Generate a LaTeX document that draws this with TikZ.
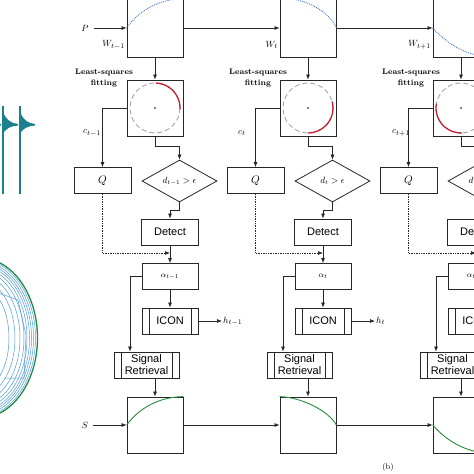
\documentclass[tikz,border=0pt]{standalone}
\usepackage{fontspec}
\newfontfamily\boxfont{Liberation Sans}
\usepackage{tikz}
\usetikzlibrary{arrows.meta,positioning,shapes.geometric}

\definecolor{spikecol}{RGB}{25,128,140}
\definecolor{ringblue}{RGB}{80,155,215}
\definecolor{ringgreen}{RGB}{30,140,70}
\definecolor{wcurve}{RGB}{70,120,200}
\definecolor{scurve}{RGB}{40,140,60}
\definecolor{fitred}{RGB}{200,30,50}

\begin{document}
\begin{tikzpicture}[x=1pt, y=-1pt,
  sq/.style={draw=black!85, line width=0.8pt, minimum width=56pt,
             minimum height=56pt, inner sep=0pt},
  blk/.style={draw=black!85, line width=0.8pt, minimum width=57pt,
              minimum height=26pt, inner sep=1pt, align=center,
              font=\boxfont\fontsize{11}{12}\selectfont},
  proc/.style={blk, path picture={
      \draw[line width=0.8pt]
        ([xshift=7pt]path picture bounding box.north west) --
        ([xshift=7pt]path picture bounding box.south west);
      \draw[line width=0.8pt]
        ([xshift=-7pt]path picture bounding box.north east) --
        ([xshift=-7pt]path picture bounding box.south east);}},
  dec/.style={diamond, draw=black!85, line width=0.8pt, minimum width=75pt,
              minimum height=42pt, inner sep=0pt,
              font=\fontsize{9}{10}\selectfont},
  lbl/.style={font=\fontsize{9.5}{11}\selectfont, inner sep=1pt},
  fitlbl/.style={font=\fontsize{8}{11}\selectfont\bfseries, align=center,
                 inner sep=0pt},
  arr/.style={-{Latex[length=5pt,width=4pt]}, line width=0.7pt, draw=black!85},
  dotarr/.style={arr, densely dotted},
  wline/.style={wcurve, densely dotted, line width=0.9pt},
  sline/.style={scurve, line width=0.9pt},
  fitcirc/.style={gray!70, dash pattern=on 5pt off 3pt, line width=0.9pt},
  fitarc/.style={fitred, line width=1.3pt},
  spikeline/.style={spikecol, line width=1.6pt},
  ringline/.style={ringblue, line width=0.5pt},
  ringouter/.style={ringgreen, line width=1.3pt},
]
\useasboundingbox (0,0) rectangle (474,474);

%% ---- left: signal traces (cut off) ----
\draw[spikeline] (3,106) -- (3,194);
\draw[spikeline] (20,106) -- (20,194);
\fill[spikecol] (-14,112) .. controls (-10,121) and (-6,123) .. (1,124)
  -- (1,125.5) .. controls (-6,126) and (-10,128) .. (-14,133) -- cycle;
\fill[spikecol] (3,112) .. controls (7,121) and (11,123) .. (18,124)
  -- (18,125.5) .. controls (11,126) and (7,128) .. (3,133) -- cycle;
\fill[spikecol] (20,112) .. controls (24,121) and (28,123) .. (35,124)
  -- (35,125.5) .. controls (28,126) and (24,128) .. (20,133) -- cycle;

%% ---- left: contour rings (cut off) ----
\foreach \rx/\ry in {55.5/78.5, 53.5/76.5, 51.5/74.5, 49.5/72.5, 47/70,
                     44/67, 40/63, 35/58, 29/52}
  \draw[ringline] (-20,338) ellipse[x radius=\rx, y radius=\ry];
\draw[ringline] (-4,292) -- (18,300) -- (26,335) -- (24,378) -- (4,378);
\draw[ringouter] (-20,338) ellipse[x radius=57.5, y radius=80];

%% ---- Column t-1 ----
\node[sq, minimum height=58pt] (w1) at (155,28) {};
\node[sq] (fit1) at (155,108) {};
\node[blk] (q1) at (102.5,180.5) {$Q$};
\node[dec] (dec1) at (179.5,181) {$d_{t-1} > \epsilon$};
\node[blk] (det1) at (170,232) {Detect};
\node[blk, minimum width=56pt, font=\fontsize{8}{10}\selectfont] (al1) at (170,276.5) {$\alpha_{t-1}$};
\node[proc, minimum width=56pt] (icon1) at (170,321) {ICON};
\node[proc, minimum width=65pt] (sr1) at (146.5,365) {Signal\\Retrieval};
\node[sq] (s1) at (155,425) {};
\coordinate (j1) at (170,253);

\node[fitlbl] (lsq1) at (104,78) {Least-squares\\fitting};
\node[lbl, anchor=east] (wl1) at (126,45) {$W_{t-1}$};
\node[lbl, anchor=west] (cl1) at (82,133) {$c_{t-1}$};
\node[lbl, anchor=west] (h1) at (222,321) {$h_{t-1}$};
\node[lbl] (pin) at (85,28) {$P$};
\node[lbl] (sin) at (85,425) {$S$};

\draw[wline] (w1.west) .. controls (139,10) and (160,-1) .. (w1.north east);
\draw[sline] (s1.west) .. controls (140,407) and (160,397) .. (s1.north east);
\draw[fitcirc] (fit1.center) circle[radius=25];
\draw[fitarc] (fit1.center) ++(-88:25) arc[start angle=-88, end angle=3, radius=25];
\fill (fit1.center) circle[radius=0.9];

%% ---- Column t ----
\node[sq, minimum height=58pt] (w2) at (308,28) {};
\node[sq] (fit2) at (308,108) {};
\node[blk] (q2) at (255.5,180.5) {$Q$};
\node[dec] (dec2) at (332.5,181) {$d_{t} > \epsilon$};
\node[blk] (det2) at (323,232) {Detect};
\node[blk, minimum width=56pt, font=\fontsize{8}{10}\selectfont] (al2) at (323,276.5) {$\alpha_{t}$};
\node[proc, minimum width=56pt] (icon2) at (323,321) {ICON};
\node[proc, minimum width=65pt] (sr2) at (299.5,365) {Signal\\Retrieval};
\node[sq] (s2) at (308,425) {};
\coordinate (j2) at (323,253);

\node[fitlbl] (lsq2) at (258,78) {Least-squares\\fitting};
\node[lbl, anchor=east] (wl2) at (279,45) {$W_{t}$};
\node[lbl, anchor=west] (cl2) at (237,133) {$c_{t}$};
\node[lbl, anchor=west] (h2) at (375,321) {$h_{t}$};

\draw[wline] (289,-1) .. controls (305,-1) and (330,12) .. (w2.east);
\draw[sline] (s2.north west) .. controls (300,397) and (328,410) .. (s2.east);
\draw[fitcirc] (fit2.center) circle[radius=25];
\draw[fitarc] (fit2.center) ++(-15:25) arc[start angle=-15, end angle=90, radius=25];
\fill (fit2.center) circle[radius=0.9];

%% ---- Column t+1 ----
\node[sq, minimum height=58pt] (w3) at (461,28) {};
\node[sq] (fit3) at (461,108) {};
\node[blk] (q3) at (408.5,180.5) {$Q$};
\node[dec] (dec3) at (485.5,181) {$d_{t+1} > \epsilon$};
\node[blk] (det3) at (476,232) {Detect};
\node[blk, minimum width=56pt, font=\fontsize{8}{10}\selectfont] (al3) at (476,276.5) {$\alpha_{t+1}$};
\node[proc, minimum width=56pt] (icon3) at (476,321) {ICON};
\node[proc, minimum width=65pt] (sr3) at (452.5,365) {Signal\\Retrieval};
\node[sq] (s3) at (461,425) {};
\coordinate (j3) at (476,253);

\node[fitlbl] (lsq3) at (411,78) {Least-squares\\fitting};
\node[lbl, anchor=east] (wl3) at (432,45) {$W_{t+1}$};
\node[lbl, anchor=west] (cl3) at (391,133) {$c_{t+1}$};

\draw[wline] (w3.west) .. controls (446,42) and (463,55) .. (w3.south east);
\draw[sline] (s3.west) .. controls (446,440) and (464,452) .. (s3.south east);
\draw[fitcirc] (fit3.center) circle[radius=25];
\draw[fitarc] (fit3.center) ++(-170:25) arc[start angle=-170, end angle=-272, radius=25];
\fill (fit3.center) circle[radius=0.9];

%% ---- Connectors ----
\draw[arr, shorten <=4pt] (pin) -- (w1.west);
\draw[arr, shorten <=4pt] (sin) -- (s1.west);
\draw[arr] (w1.east) -- (w2.west);
\draw[arr] (w2.east) -- (w3.west);
\draw[arr] (s1.east) -- (s2.west);
\draw[arr] (s2.east) -- (s3.west);

\draw[arr] (w1) -- (fit1);
\draw[arr] (fit1.west) -| (q1.north);
\draw[arr] (fit1.south) -- ++(0,10) -| (dec1.north);
\draw[arr] (dec1.south) -- ++(0,8) -| (det1.north);
\draw[dotarr] (q1.south) |- (j1);
\draw[arr] (det1) -- (al1);
\draw[arr] (al1.west) -| ([xshift=-16.5pt]sr1.north);
\draw[arr] (al1) -- (icon1);
\draw[arr] (icon1.east) -- (h1.west);
\draw[arr] (sr1.south -| s1.north) -- (s1.north);

\draw[arr] (w2) -- (fit2);
\draw[arr] (fit2.west) -| (q2.north);
\draw[arr] (fit2.south) -- ++(0,10) -| (dec2.north);
\draw[arr] (dec2.south) -- ++(0,8) -| (det2.north);
\draw[dotarr] (q2.south) |- (j2);
\draw[arr] (det2) -- (al2);
\draw[arr] (al2.west) -| ([xshift=-16.5pt]sr2.north);
\draw[arr] (al2) -- (icon2);
\draw[arr] (icon2.east) -- (h2.west);
\draw[arr] (sr2.south -| s2.north) -- (s2.north);

\draw[arr] (w3) -- (fit3);
\draw[arr] (fit3.west) -| (q3.north);
\draw[arr] (fit3.south) -- ++(0,10) -| (dec3.north);
\draw[arr] (dec3.south) -- ++(0,8) -| (det3.north);
\draw[dotarr] (q3.south) |- (j3);
\draw[arr] (det3) -- (al3);
\draw[arr] (al3.west) -| ([xshift=-16.5pt]sr3.north);
\draw[arr] (al3) -- (icon3);
\draw[arr] (sr3.south -| s3.north) -- (s3.north);

%% ---- Caption ----
\node[font=\fontsize{8}{10}\selectfont] (cap) at (388,467) {(b)};

\end{tikzpicture}
\end{document}
